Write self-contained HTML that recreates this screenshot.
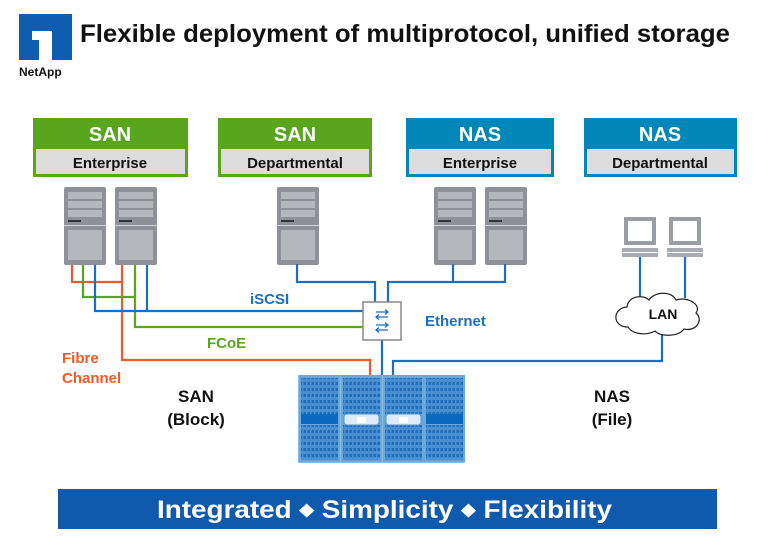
<!DOCTYPE html>
<html><head><meta charset="utf-8"><style>
html,body{margin:0;padding:0;background:#fff;}
svg{display:block;font-family:"Liberation Sans",Arial,sans-serif;}
</style></head><body>
<svg width="768" height="546" viewBox="0 0 768 546" xmlns="http://www.w3.org/2000/svg">
<defs>
<pattern id="slot" x="0" y="0" width="4" height="6" patternUnits="userSpaceOnUse">
<rect width="4" height="6" fill="#4a90d0"/><rect x="0.5" y="1" width="2.5" height="3" fill="#1f6db8"/>
</pattern>
<g id="srv">
<rect x="0" y="0" width="42" height="78" rx="2" fill="#8e9298"/>
<rect x="4" y="5" width="34" height="7" fill="#b4b8bd"/>
<rect x="4" y="14" width="34" height="7" fill="#b4b8bd"/>
<rect x="4" y="23" width="34" height="7" fill="#b4b8bd"/>
<rect x="4" y="33" width="13" height="2" fill="#333"/>
<rect x="0" y="38" width="42" height="1" fill="#d0d3d6"/>
<rect x="4" y="43" width="34" height="30" fill="#b4b8bd"/>
</g>
<g id="pc">
<rect x="2" y="0" width="32" height="28" fill="#9a9ea3"/>
<rect x="6" y="4" width="24" height="20" fill="#fff"/>
<rect x="0" y="31" width="36" height="9" fill="#a8acb0"/>
<rect x="0" y="35" width="36" height="1" fill="#fff"/>
</g>
<g id="unit">
<rect x="0" y="0" width="41" height="87" fill="#6aa7db"/>
<rect x="2" y="3" width="37" height="36" fill="url(#slot)"/>
<rect x="2" y="50" width="37" height="35" fill="url(#slot)"/>
</g>
</defs>

<!-- header -->
<rect x="19" y="14" width="53" height="46" fill="#0d5db0"/>
<rect x="32" y="31" width="20" height="9" fill="#fff"/>
<rect x="39" y="31" width="13" height="29" fill="#fff"/>
<text x="19" y="76" font-size="12" font-weight="bold" fill="#111">NetApp</text>
<text x="80" y="42" font-size="25" font-weight="bold" fill="#111" textLength="650" lengthAdjust="spacingAndGlyphs">Flexible deployment of multiprotocol, unified storage</text>

<!-- category boxes -->
<g font-weight="bold" text-anchor="middle">
<rect x="33" y="118" width="155" height="59" fill="#5aa51e"/>
<rect x="36" y="149" width="149" height="25" fill="#dcdcdc"/>
<text x="110" y="141" font-size="20" fill="#fff">SAN</text>
<text x="110" y="168" font-size="15" fill="#111">Enterprise</text>
<rect x="218" y="118" width="154" height="59" fill="#5aa51e"/>
<rect x="221" y="149" width="148" height="25" fill="#dcdcdc"/>
<text x="295" y="141" font-size="20" fill="#fff">SAN</text>
<text x="295" y="168" font-size="15" fill="#111">Departmental</text>
<rect x="406" y="118" width="148" height="59" fill="#0087b8"/>
<rect x="409" y="149" width="142" height="25" fill="#dcdcdc"/>
<text x="480" y="141" font-size="20" fill="#fff">NAS</text>
<text x="480" y="168" font-size="15" fill="#111">Enterprise</text>
<rect x="584" y="118" width="153" height="59" fill="#0087b8"/>
<rect x="587" y="149" width="147" height="25" fill="#dcdcdc"/>
<text x="660" y="141" font-size="20" fill="#fff">NAS</text>
<text x="660" y="168" font-size="15" fill="#111">Departmental</text>
</g>

<!-- servers -->
<use href="#srv" x="64" y="187"/>
<use href="#srv" x="115" y="187"/>
<use href="#srv" x="277" y="187"/>
<use href="#srv" x="434" y="187"/>
<use href="#srv" x="485" y="187"/>
<use href="#pc" x="622" y="217"/>
<use href="#pc" x="667" y="217"/>

<!-- lines -->
<g fill="none" stroke-width="2.2">
<polyline stroke="#f05a28" points="72,265 72,282 122,282"/>
<polyline stroke="#f05a28" points="122,265 122,360 370,360 370,376"/>
<polyline stroke="#5aa51e" points="83,265 83,297 135,297"/>
<polyline stroke="#5aa51e" points="135,265 135,327 363,327"/>
<polyline stroke="#1a6fc4" points="95,265 95,311 363,311"/>
<polyline stroke="#1a6fc4" points="147,265 147,311"/>
<polyline stroke="#1a6fc4" points="297,264 297,282 375,282 375,302"/>
<polyline stroke="#1a6fc4" points="388,302 388,282 505,282 505,264"/>
<polyline stroke="#1a6fc4" points="453,264 453,282"/>
<polyline stroke="#1a6fc4" points="382,340 382,376"/>
<polyline stroke="#1a6fc4" points="393,376 393,361 662,361 662,330"/>
<polyline stroke="#1a6fc4" points="640,257 640,300"/>
<polyline stroke="#1a6fc4" points="685,257 685,298"/>
</g>

<!-- switch -->
<rect x="363" y="302" width="38" height="38" fill="#fff" stroke="#888" stroke-width="1.5"/>
<g stroke="#1a6fc4" stroke-width="1.3" fill="none">
<path d="M376,312 h12 M385,309.5 l3,2.5 -3,2.5"/>
<path d="M388,317 h-12 M379,314.5 l-3,2.5 3,2.5"/>
<path d="M376,325 h12 M385,322.5 l3,2.5 -3,2.5"/>
<path d="M388,330 h-12 M379,327.5 l-3,2.5 3,2.5"/>
</g>

<!-- cloud -->
<path d="M628,327 C612,327 612,308 627,307 C628,296 643,294 649,300 C655,291 672,291 676,300 C688,296 702,305 696,313 C704,320 696,332 684,329 C678,337 660,337 655,331 C646,336 632,334 628,327 Z" fill="#fff" stroke="#222" stroke-width="1.2"/>
<text x="663" y="319" font-size="14" font-weight="bold" fill="#111" text-anchor="middle">LAN</text>

<!-- storage -->
<rect x="298" y="375" width="167" height="88" fill="#8bbde6"/>
<use href="#unit" x="299" y="375"/>
<use href="#unit" x="341" y="375"/>
<use href="#unit" x="383" y="375"/>
<use href="#unit" x="424" y="375"/>
<rect x="301" y="414" width="37" height="10" fill="#0a68bd"/>
<rect x="426" y="414" width="37" height="10" fill="#0a68bd"/>
<rect x="344" y="414" width="35" height="11" rx="3" fill="#dcebf7" stroke="#5a96cf"/>
<rect x="386" y="414" width="35" height="11" rx="3" fill="#dcebf7" stroke="#5a96cf"/>
<rect x="357" y="417" width="9" height="6" fill="#fff"/><rect x="399" y="417" width="9" height="6" fill="#fff"/>

<!-- labels -->
<g font-weight="bold">
<text x="250" y="304" font-size="15" fill="#1a6fc4">iSCSI</text>
<text x="207" y="348" font-size="15" fill="#5aa51e">FCoE</text>
<text x="62" y="363" font-size="15" fill="#f05a28">Fibre</text>
<text x="62" y="383" font-size="15" fill="#f05a28">Channel</text>
<text x="425" y="326" font-size="15" fill="#1a6fc4">Ethernet</text>
<text x="196" y="402" font-size="17" fill="#111" text-anchor="middle">SAN</text>
<text x="196" y="425" font-size="17" fill="#111" text-anchor="middle">(Block)</text>
<text x="612" y="402" font-size="17" fill="#111" text-anchor="middle">NAS</text>
<text x="612" y="425" font-size="17" fill="#111" text-anchor="middle">(File)</text>
</g>

<!-- bottom bar -->
<rect x="58" y="489" width="659" height="40" fill="#0f5aad"/>
<text x="157" y="518" font-size="25" font-weight="bold" fill="#fff" textLength="455" lengthAdjust="spacingAndGlyphs">Integrated <tspan font-size="17" dy="-3">◆</tspan><tspan dy="3"> Simplicity </tspan><tspan font-size="17" dy="-3">◆</tspan><tspan dy="3"> Flexibility</tspan></text>
</svg>
</body></html>
